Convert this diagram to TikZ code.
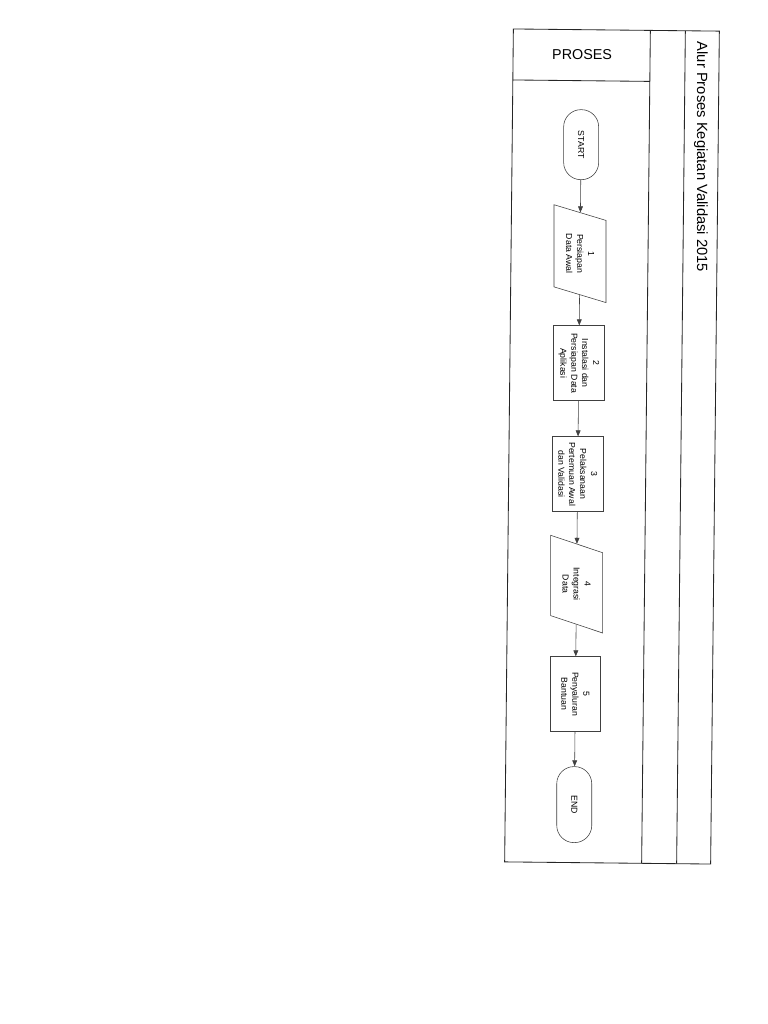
\documentclass[tikz,border=0pt]{standalone}
\usepackage{fontspec}
\setmainfont{Liberation Sans}
\usetikzlibrary{arrows.meta,shapes.geometric}
\tikzset{
	flowline/.style={draw=black!75, line width=0.4pt},
	boxtext/.style={align=center, inner sep=1pt, font=\fontsize{6.2}{7.8}\selectfont},
	terminal/.style={flowline, boxtext, rectangle, rounded corners=0.43cm, minimum height=0.875cm, rotate=-90},
	process/.style={flowline, boxtext, rectangle, minimum width=1.875cm, minimum height=1.26cm, rotate=-90},
	inout/.style={flowline, boxtext, trapezium, trapezium left angle=72, trapezium right angle=108, trapezium stretches=true, minimum width=2.45cm, minimum height=1.3cm, rotate=-90},
	link/.style={draw=black!75, line width=0.4pt, -{Triangle[length=1.5mm,width=1.2mm]}},
	frameline/.style={draw=black!85, line width=0.6pt}
}
\begin{document}
\begin{tikzpicture}[x=0.025cm, y=0.025cm]
			%%%%% START %%%%%
			\fill[white] (0, 0) rectangle (768, 1024);
			\useasboundingbox (0, 0) rectangle (768, 1024);
			
			\begin{scope}[rotate around={-0.6:(611, 578)}]
			
			% frame and lanes
			\draw[frameline] (509, 994) rectangle (715, 161);
			\draw[frameline] (646, 994) -- (646, 161);
			\draw[frameline] (681, 994) -- (681, 161);
			\draw[frameline] (509, 943) -- (646, 943);
			
			\node[font=\fontsize{10.2}{12}\selectfont] (lane) at (578, 969) {PROSES};
			\node[font=\fontsize{10.5}{12}\selectfont, rotate=-90] (title) at (698, 868) {Alur Proses Kegiatan Validasi 2015};
			
			% steps
			\node[terminal, minimum width=1.75cm] (start) at (578, 879) {START};
			\node[inout] (step1) at (578, 770) {1\\Persiapan\\Data Awal};
			\node[process] (step2) at (578, 660.5) {2\\Instalasi dan\\Persiapan Data\\Aplikasi};
			\node[process] (step3) at (578, 549.5) {3\\Pelaksanaan\\Pertemuan Awal\\dan Validasi};
			\node[inout] (step4) at (578, 439.5) {4\\Integrasi\\Data};
			\node[process] (step5) at (578, 329.5) {5\\Penyaluran\\Bantuan};
			\node[terminal, minimum width=1.9cm] (end) at (578, 219) {END};
			
			% connectors
			\draw[link] (start) -- (step1);
			\draw[link] (step1) -- (step2);
			\draw[link] (step2) -- (step3);
			\draw[link] (step3) -- (step4);
			\draw[link] (step4) -- (step5);
			\draw[link] (step5) -- (end);
			
			\end{scope}
			%%%%% END %%%%%
\end{tikzpicture}
\end{document}
